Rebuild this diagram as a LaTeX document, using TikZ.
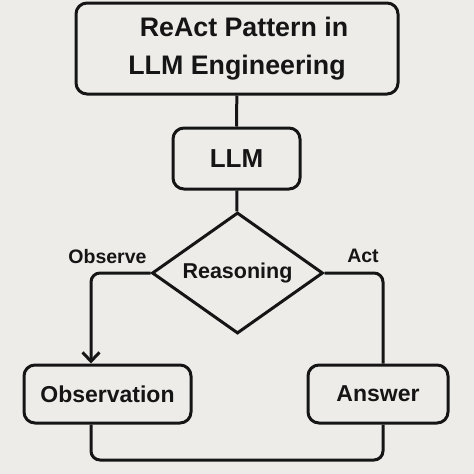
\documentclass[tikz,border=0pt]{standalone}
\usepackage{fontspec}
\setmainfont{Liberation Sans}
\usetikzlibrary{shapes.geometric,arrows.meta}
\definecolor{bg}{HTML}{EDECE9}
\definecolor{ink}{HTML}{151515}
\begin{document}
\begin{tikzpicture}[x=1pt,y=-1pt,
  box/.style={draw=ink,line width=3pt,rounded corners=11pt,inner sep=0pt,font=\bfseries\color{ink}},
  conn/.style={draw=ink,line width=3pt,rounded corners=9pt},
  arr/.style={conn,-{Straight Barb[length=9pt,width=17pt,line width=3pt]}},
  lbl/.style={font=\fontsize{19.5}{22}\selectfont\bfseries\color{ink},inner sep=0pt}]
\fill[bg] (0,0) rectangle (474,474);
\useasboundingbox (0,0) rectangle (474,474);
\node[box,minimum width=322pt,minimum height=91pt,align=center,
  font=\fontsize{26.8}{38}\selectfont\bfseries\color{ink}] (title) at (237,48.5) {\hspace*{14pt}ReAct Pattern in\\LLM Engineering};
\node[box,minimum width=127pt,minimum height=61pt,font=\fontsize{26}{30}\selectfont\bfseries\color{ink}] (llm) at (236.5,158.5) {LLM};
\node[draw=ink,line width=3pt,shape=diamond,aspect=1.41,inner sep=0pt,minimum width=171pt,minimum height=121pt,
  font=\fontsize{21.5}{24}\selectfont\bfseries\color{ink}] (rea) at (237.5,273) {Reasoning};
\node[box,minimum width=167pt,minimum height=58pt,font=\fontsize{23}{26}\selectfont\bfseries\color{ink}] (obs) at (107.5,394) {Observation};
\node[box,minimum width=140pt,minimum height=58pt,font=\fontsize{23}{26}\selectfont\bfseries\color{ink}] (ans) at (378,394) {Answer};
\node[lbl] (lobs) at (107.5,257) {Observe};
\node[lbl] (lact) at (363,256) {Act};
\coordinate (obsx) at (91,0);
\coordinate (ansx) at (383,0);
\coordinate (botc) at (237,460);
\draw[conn] (title) -- (llm);
\draw[conn] (llm) -- (rea);
\draw[arr] (rea.west) -| (obs.north -| obsx);
\draw[conn] (rea.east) -| (ans.north -| ansx);
\draw[conn] (obs.south -| obsx) |- (botc) -| (ans.south -| ansx);
\end{tikzpicture}
\end{document}
